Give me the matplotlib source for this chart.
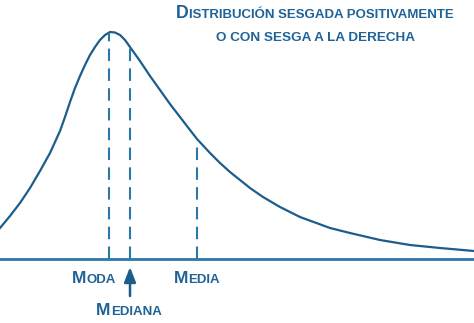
import matplotlib
matplotlib.use("Agg")
from matplotlib import pyplot as plt
from matplotlib.offsetbox import TextArea, HPacker, AnnotationBbox

# curve (x position, height above the axis)
curve_x = [0, 10, 20, 30, 40, 50, 60, 65, 70, 75, 80, 85, 90, 95, 100, 105, 110,
           115, 120, 125, 130, 140, 150, 160, 170, 180, 190, 197, 210, 220, 230,
           240, 250, 263, 280, 300, 330, 350, 380, 410, 440, 474]
curve_y = [31, 43, 56, 71, 88, 106, 128, 142, 157, 171, 183, 194, 204, 212, 219, 224, 227,
           226.5, 224, 219, 212, 198, 183, 169, 155, 142, 129, 120, 106, 96, 87,
           79, 71, 62, 52, 42, 31, 26, 19, 14, 11, 8]

# measures of central tendency: name, position, height of the curve there
measures = ["Moda", "Mediana", "Media"]
measure_x = [109, 130, 197]
measure_y = [226, 212, 120]

title_lines = [("D", "ISTRIBUCIÓN SESGADA POSITIVAMENTE"), ("", "O CON SESGA A LA DERECHA")]

text_col = "#1f6397"
curve_col = "#1c5d8c"
dash_col = "#2a78a8"

fig = plt.figure(figsize=(4.74, 3.23), dpi=100)
ax = fig.add_axes([0, 0, 1, 1])
ax.set_xlim(0, 474)
ax.set_ylim(-64, 259)
ax.axis("off")

ax.plot(curve_x, curve_y, color=curve_col, lw=1.6, solid_joinstyle="round")
ax.axhline(0, color="#2b77aa", lw=2)

for x, y in zip(measure_x, measure_y):
    ax.plot([x, x], [0, y], color=dash_col, lw=1.5, dashes=(6, 3.5))


def small_caps(big, rest, big_size, small_size, xy, align):
    # first letter large, the rest as small capitals
    parts = []
    if big:
        parts.append(TextArea(big, textprops=dict(color=text_col, fontsize=big_size,
                                                  fontweight="bold", family="Liberation Sans")))
    parts.append(TextArea(rest, textprops=dict(color=text_col, fontsize=small_size,
                                               fontweight="bold", family="Liberation Sans")))
    pack = HPacker(children=parts, align="baseline", pad=0, sep=0)
    ab = AnnotationBbox(pack, xy, xycoords="data", box_alignment=align, frameon=False, pad=0)
    ax.add_artist(ab)


# title
small_caps(title_lines[0][0], title_lines[0][1], 12.8, 9.5, (315, 237), (0.5, 0))
small_caps(title_lines[1][0], title_lines[1][1], 12, 9.7, (316, 215), (0.5, 0))

# labels under the axis
small_caps("M", measures[0][1:].upper(), 12.5, 9.5, (94, -27), (0.5, 0))
small_caps("M", measures[2][1:].upper(), 12.5, 9.5, (197, -27), (0.5, 0))
small_caps("M", measures[1][1:].upper(), 12.5, 9.5, (129, -59), (0.5, 0))

# arrow pointing at the median
ax.annotate("", xy=(measure_x[1], -8), xytext=(measure_x[1], -37),
            arrowprops=dict(arrowstyle="-|>,head_length=0.9,head_width=0.35",
                            color=curve_col, lw=1.8, shrinkA=0, shrinkB=0))

fig.savefig("out.png", dpi=100)
